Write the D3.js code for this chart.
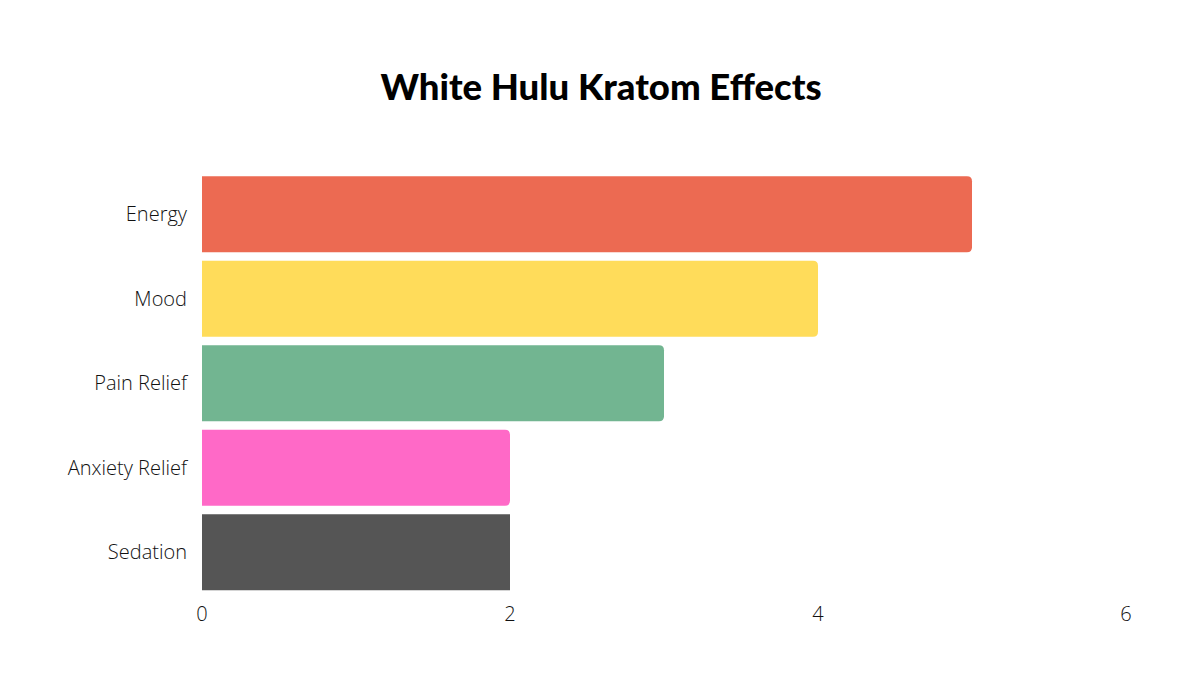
<!DOCTYPE html>
<html><head><meta charset="utf-8">
<script src="https://cdn.jsdelivr.net/npm/d3@7"></script>
<style>body{margin:0;background:#fff}</style>
</head><body>
<svg id="chart" width="1200" height="675"></svg>
<script>
const categories = ["Energy", "Mood", "Pain Relief", "Anxiety Relief", "Sedation"];
const values = [5, 4, 3, 2, 2];
const colors = ["#EC6A52", "#FFDC5A", "#72B591", "#FF69C7", "#555555"];
const ticks = [0, 2, 4, 6];
const title = "White Hulu Kratom Effects";

const svg = d3.select("#chart");
svg.append("rect").attr("width",1200).attr("height",675).attr("fill","#fff");

const x = d3.scaleLinear().domain([0, 6]).range([202, 1126]);
const y = d3.scaleBand().domain(categories).range([172, 594.5]).paddingInner(0.1).paddingOuter(0.05);

svg.append("text").attr("x", 601).attr("y", 100).attr("text-anchor","middle")
  .attr("font-family","Lato, 'Open Sans', sans-serif").attr("font-weight",900)
  .attr("font-size",36.5).attr("fill","#000").text(title);

function barPath(x0, x1, y0, h, r) {
  r = Math.min(r, (x1-x0)/2, h/2);
  return `M${x0},${y0}H${x1-r}Q${x1},${y0} ${x1},${y0+r}V${y0+h-r}Q${x1},${y0+h} ${x1-r},${y0+h}H${x0}Z`;
}

svg.selectAll("path.bar").data(categories).join("path").attr("class","bar")
  .attr("d",(d,i)=>barPath(x(0), x(values[i]), y(d), y.bandwidth(), i === categories.length-1 ? 0 : 5))
  .attr("fill",(d,i)=>colors[i]);

svg.selectAll("text.cat").data(categories).join("text").attr("class","cat")
  .attr("x", 187).attr("y", d=>y(d)+y.bandwidth()/2).attr("dy","0.35em")
  .attr("text-anchor","end").attr("font-family","'Open Sans', sans-serif").attr("font-weight",300)
  .attr("font-size",20).attr("fill","#111").text(d=>d);

svg.selectAll("text.tick").data(ticks).join("text").attr("class","tick")
  .attr("x", d=>x(d)).attr("y", 621).attr("text-anchor","middle")
  .attr("font-family","'Open Sans', sans-serif").attr("font-weight",300)
  .attr("font-size",20).attr("fill","#111").text(d=>d);
</script>
</body></html>
